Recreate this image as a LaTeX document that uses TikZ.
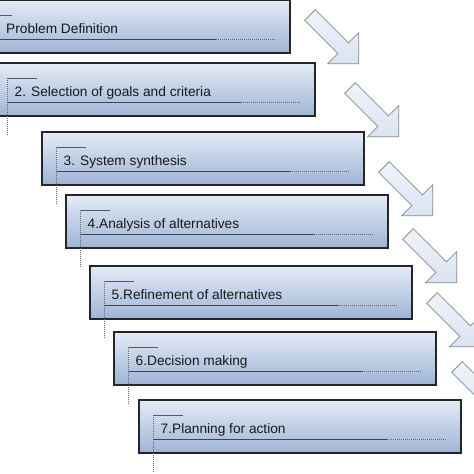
\documentclass[tikz,border=0pt]{standalone}
\usepackage{fontspec}
\setmainfont{Liberation Sans}
\begin{document}
\begin{tikzpicture}[x=1pt,y=-1pt,
  stepbox/.style={draw=black!85, line width=1.5pt, top color=boxtop, bottom color=boxbot,
    minimum width=322pt, minimum height=53pt, inner sep=0pt, outer sep=0pt},
  cornerline/.style={draw=black!65, line width=0.7pt},
  vdots/.style={draw=black!60, line width=0.9pt, dash pattern=on 1pt off 1pt},
  uline/.style={draw=linecol, line width=0.8pt},
  udots/.style={draw=black!60, line width=0.8pt, dash pattern=on 1pt off 1pt},
  lbl/.style={inner sep=0pt, text=black!90, font=\fontsize{13.7}{16}\selectfont},
  arrowst/.style={draw=black!45, line width=0.8pt, top color=arrtop, bottom color=arrbot},
  barrow/.pic={\path[arrowst] (5.3,-5.3) -- (38.5,27.9) -- (48.8,17.6) -- (48.8,48.8) -- (17.6,48.8) -- (27.9,38.5) -- (-5.3,5.3) -- cycle;}
]
\definecolor{boxtop}{RGB}{228,235,246}
\definecolor{boxbot}{RGB}{158,180,214}
\definecolor{arrtop}{RGB}{240,244,250}
\definecolor{arrbot}{RGB}{218,227,241}
\definecolor{linecol}{RGB}{62,70,84}
\useasboundingbox (0,0) rectangle (474,474);
\clip (0,0) rectangle (474,474);
\fill[white] (0,0) rectangle (474,474);
\foreach \i/\L/\T/\txt/\tx in {1/-32/0/Problem Definition/38,
  2/-7/63/2. Selection of goals and criteria/21.5,
  3/42/132/3. System synthesis/21.5,
  4/66/195/4.Analysis of alternatives/21.5,
  5/90/266/5.Refinement of alternatives/21.5,
  6/114/332/6.Decision making/21.5,
  7/139/400/7.Planning for action/21.5}{
  \node[stepbox, anchor=north west] (box\i) at (\L,\T) {};
  \draw[cornerline] ([xshift=44pt,yshift=-15pt]box\i.north west) -- ([xshift=14pt,yshift=-15pt]box\i.north west);
  \draw[vdots] ([xshift=14pt,yshift=-15pt]box\i.north west) -- ([xshift=14pt,yshift=-20pt]box\i.south west);
  \draw[uline] ([xshift=14pt,yshift=-39pt]box\i.north west) -- ([xshift=-74pt,yshift=-39pt]box\i.north east);
  \draw[udots] ([xshift=-74pt,yshift=-39pt]box\i.north east) -- ([xshift=-14pt,yshift=-39pt]box\i.north east);
  \node[lbl, anchor=base west] (t\i) at ([xshift=\tx pt,yshift=-33pt]box\i.north west) {\txt};
}
\foreach \k/\ax/\ay in {1/310/15, 2/350/88, 3/384/167, 4/408/234, 5/432/298, 6/457/367}{
  \pic (arr\k) at (\ax,\ay) {barrow};
}
\end{tikzpicture}
\end{document}
